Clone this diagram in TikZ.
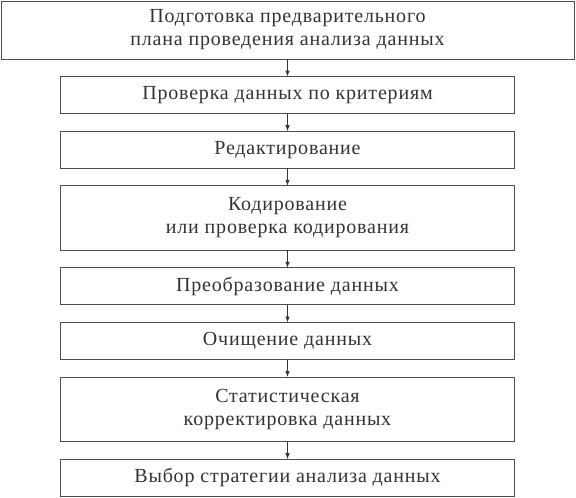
\documentclass[tikz,border=0pt]{standalone}
\usepackage{fontspec}
\setmainfont[LetterSpace=4]{Liberation Serif}
\usetikzlibrary{positioning,arrows.meta}

\begin{document}
\begin{tikzpicture}[
  x=1pt, y=1pt,
  node distance=17.6pt,
  every node/.style={font=\fontsize{20}{23}\selectfont, text=black!80},
  planbox/.style={rectangle, draw=black!70, line width=1pt, minimum width=573pt, minimum height=58pt, align=center, inner sep=0pt, outer sep=0pt},
  stagebox/.style={rectangle, draw=black!70, line width=1pt, minimum width=454pt, minimum height=37pt, align=center, inner sep=0pt, outer sep=0pt},
  tallbox/.style={stagebox, minimum height=64.5pt},
  arrow/.style={-{Latex[length=6pt, width=4.5pt]}, draw=black!80, line width=0.9pt}
]
\useasboundingbox (0,0) rectangle (576,-498);

% Plan
\node[planbox] (plan) at (287.5,-30) {Подготовка предварительного\\плана проведения анализа данных};

% Stages
\node[stagebox, below=of plan] (check) {Проверка данных по критериям};
\node[stagebox, below=of check] (edit) {Редактирование};
\node[tallbox, below=of edit] (coding) {Кодирование\\или проверка кодирования};
\node[stagebox, below=of coding] (transform) {Преобразование данных};
\node[stagebox, below=of transform] (clean) {Очищение данных};
\node[tallbox, below=of clean] (adjust) {Статистическая\\корректировка данных};
\node[stagebox, below=of adjust] (strategy) {Выбор стратегии анализа данных};

\draw[arrow] (plan) -- (check);
\draw[arrow] (check) -- (edit);
\draw[arrow] (edit) -- (coding);
\draw[arrow] (coding) -- (transform);
\draw[arrow] (transform) -- (clean);
\draw[arrow] (clean) -- (adjust);
\draw[arrow] (adjust) -- (strategy);

\end{tikzpicture}
\end{document}
